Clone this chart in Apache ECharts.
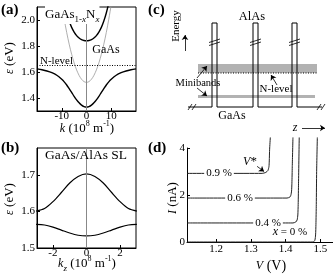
<!DOCTYPE html>
<html>
<head>
<meta charset="utf-8">
<script src="https://cdn.jsdelivr.net/npm/echarts@6/dist/echarts.min.js"></script>
<style>
html, body { margin: 0; padding: 0; background: #fff; }
#chart { width: 333px; height: 279px; }
</style>
</head>
<body>
<div id="chart"></div>
<script>
// (a) GaAs1-xNx band anticrossing
const kA = [-20, -18, -16, -14, -12, -10, -9, -8, -7, -6, -5, -4, -3, -2, -1, 0, 1, 2, 3, 4, 5, 6, 7, 8, 9, 10, 12, 14, 16, 18, 20];
const eLowerA = [1.624, 1.617, 1.608, 1.595, 1.575, 1.544, 1.524, 1.500, 1.472, 1.443, 1.413, 1.386, 1.363, 1.345, 1.334, 1.330, 1.334, 1.345, 1.363, 1.386, 1.413, 1.443, 1.472, 1.500, 1.524, 1.544, 1.575, 1.595, 1.608, 1.617, 1.624];
const kUpperA = [-10, -9, -8, -7, -6, -5, -4, -3, -2, -1, 0, 1, 2, 3, 4, 5, 6, 7, 8, 9, 10];
const eUpperA = [2.225, 2.132, 2.054, 1.992, 1.943, 1.907, 1.880, 1.862, 1.849, 1.842, 1.840, 1.842, 1.849, 1.862, 1.880, 1.907, 1.943, 1.992, 2.054, 2.132, 2.225];
const kGaAs = [-11, -10, -9, -8, -7, -6, -5, -4, -3, -2, -1, 0, 1, 2, 3, 4, 5, 6, 7, 8, 9, 10, 11];
const eGaAs = [2.246, 2.120, 2.006, 1.904, 1.814, 1.736, 1.670, 1.616, 1.574, 1.544, 1.526, 1.520, 1.526, 1.544, 1.574, 1.616, 1.670, 1.736, 1.814, 1.904, 2.006, 2.120, 2.246];
const nLevel = 1.65;
const ticksAx = [-10, 0, 10];
const ticksAy = [1.4, 1.6, 1.8, 2.0];

// (b) GaAs/AlAs superlattice minibands
const kB = [-3, -2.5, -2, -1.5, -1, -0.5, 0, 0.5, 1, 1.5, 2, 2.5, 3];
const eUpperB = [1.601, 1.608, 1.627, 1.652, 1.678, 1.696, 1.703, 1.696, 1.678, 1.652, 1.627, 1.608, 1.601];
const eLowerB = [1.565, 1.563, 1.557, 1.549, 1.541, 1.535, 1.533, 1.535, 1.541, 1.549, 1.557, 1.563, 1.565];
const ticksBx = [-2, 0, 2];
const ticksBy = [1.5, 1.6, 1.7];

// (c) schematic: z along the structure, energy downwards
const profileZ = [23, 47, 47, 52, 52, 88, 88, 93, 93, 127, 127, 132, 132, 157];
const profileE = [107, 107, 23, 23, 107, 107, 23, 23, 107, 107, 23, 23, 107, 107];
const barriers = [[47, 52], [88, 93], [127, 132]];
const upperBand = [[33, 68.5], [152, 68.5]];
const lowerBand = [[33, 96.5], [150, 96.5]];
const nLine = [[33, 73], [152, 73]];

// (d) I-V curves
const v09 = [1.117, 1.332, 1.343, 1.349, 1.352, 1.353, 1.354, 1.356];
const i09 = [2.92, 2.92, 2.96, 3.04, 3.20, 3.45, 3.95, 4.45];
const v06 = [1.117, 1.404, 1.412, 1.415, 1.417, 1.418, 1.419, 1.421];
const i06 = [1.87, 1.87, 1.91, 1.99, 2.17, 2.50, 3.20, 4.45];
const v04 = [1.117, 1.421, 1.429, 1.433, 1.435, 1.436, 1.437, 1.439];
const i04 = [0.81, 0.81, 0.85, 0.94, 1.15, 1.60, 2.50, 4.45];
const v00 = [1.117, 1.479, 1.484, 1.486, 1.487, 1.488, 1.489, 1.491];
const i00 = [0, 0, 0.08, 0.30, 0.75, 1.60, 3.00, 4.45];
const ticksDx = [1.2, 1.3, 1.4, 1.5];
const ticksDy = [0, 2, 4];

const FONT = 'Liberation Serif';
const zip = (xs, ys) => xs.map((x, i) => [x, ys[i]]);

function valAxis(idx, min, max, ticks, digits, margin) {
    return {
        type: 'value', gridIndex: idx, min: min, max: max,
        axisLine: { show: true, onZero: false, lineStyle: { color: '#000', width: 1 } },
        axisTick: { show: true, inside: true, length: 3, customValues: ticks, lineStyle: { color: '#000' } },
        axisLabel: {
            show: true, customValues: ticks, margin: margin, color: '#000',
            fontFamily: FONT, fontSize: 11,
            formatter: v => digits ? Number(v).toFixed(digits) : String(v)
        },
        splitLine: { show: false }
    };
}
function hiddenAxis(idx, min, max, extra) {
    return Object.assign({ type: 'value', gridIndex: idx, min: min, max: max, show: false }, extra || {});
}
function curve(xi, data, color, width, extra) {
    return Object.assign({
        type: 'line', xAxisIndex: xi, yAxisIndex: xi, data: data, showSymbol: false,
        smooth: 0.3, lineStyle: { color: color, width: width }, silent: true
    }, extra || {});
}
function segs(list, color, width, extra) {
    return Object.assign({
        type: 'lines', coordinateSystem: 'cartesian2d', xAxisIndex: 2, yAxisIndex: 2,
        polyline: true, silent: true,
        lineStyle: { color: color, width: width, opacity: 1 },
        data: list.map(c => ({ coords: c }))
    }, extra || {});
}
function txt(x, y, text, size, extra) {
    const style = Object.assign({
        text: text, fontFamily: FONT, fontSize: size, fill: '#000',
        align: 'center', verticalAlign: 'middle'
    }, extra || {});
    return { type: 'text', x: x, y: y, z: 100, style: style };
}
function vtxt(x, y, text, size, extra) {
    return Object.assign(txt(x, y, text, size, extra), { rotation: Math.PI / 2 });
}
const richBase = {
    i: { fontStyle: 'italic', fontFamily: FONT },
    sup: { fontSize: 8, verticalAlign: 'top', fontFamily: FONT },
    sub: { fontSize: 9, verticalAlign: 'bottom', fontFamily: FONT },
    subi: { fontSize: 9, verticalAlign: 'bottom', fontStyle: 'italic', fontFamily: FONT }
};

// break marks on the barriers and at the ends
const breakMarks = [];
barriers.forEach(b => {
    breakMarks.push([[b[0] - 3, 42.5], [b[1] + 3, 39]]);
    breakMarks.push([[b[0] - 3, 45.5], [b[1] + 3, 42]]);
});
breakMarks.push([[23, 110], [27, 104]], [[27, 110], [31, 104]]);
breakMarks.push([[152, 110], [156, 104]], [[156, 110], [160, 104]]);

const arrows = [
    [[32, 78], [42, 66]],
    [[32, 88], [42, 96]],
    [[112, 85], [106, 75]],
    [[137, 128], [160, 128]],
    [[20, 51], [20, 35]]
];

const chart = echarts.init(document.getElementById('chart'));
chart.setOption({
    animation: false,
    backgroundColor: '#fff',
    grid: [
        { left: 37, top: 7, width: 99, height: 104, show: true, borderColor: '#000', borderWidth: 1 },
        { left: 37, top: 148, width: 99, height: 100, show: true, borderColor: '#000', borderWidth: 1 },
        { left: 165, top: 0, width: 168, height: 140 },
        { left: 187, top: 148, width: 146, height: 94 }
    ],
    xAxis: [
        valAxis(0, -20, 20, ticksAx, 0, 0),
        valAxis(1, -2.95, 2.95, ticksBx, 0, 0),
        hiddenAxis(2, 0, 168),
        valAxis(3, 1.1167, 1.536, ticksDx, 1, 2)
    ],
    yAxis: [
        valAxis(0, 1.3, 2.1, ticksAy, 1, 2),
        valAxis(1, 1.5, 1.774, ticksBy, 1, 2),
        hiddenAxis(2, 0, 140, { inverse: true }),
        valAxis(3, 0, 4, ticksDy, 0, 2)
    ],
    series: [
        curve(0, zip(kGaAs, eGaAs), '#999', 0.8),
        curve(0, zip(kA, eLowerA), '#000', 1.4, {
            markLine: {
                silent: true, symbol: 'none', label: { show: false },
                data: [
                    { xAxis: 0, lineStyle: { color: '#888', width: 1, type: 'solid' } },
                    { yAxis: nLevel, lineStyle: { color: '#000', width: 1, type: [1, 1.5] } }
                ]
            }
        }),
        curve(0, zip(kUpperA, eUpperA), '#000', 1.4),
        curve(1, zip(kB, eUpperB), '#000', 1.2, {
            markLine: {
                silent: true, symbol: 'none', label: { show: false },
                data: [{ xAxis: 0, lineStyle: { color: '#888', width: 1, type: 'solid' } }]
            }
        }),
        curve(1, zip(kB, eLowerB), '#000', 1.2),
        segs([upperBand], '#b2b2b2', 9),
        segs([lowerBand], '#b2b2b2', 3),
        segs([nLine], '#000', 1, { lineStyle: { color: '#000', width: 1, type: [1, 1.5], opacity: 1 } }),
        segs([zip(profileZ, profileE)], '#000', 1),
        segs(breakMarks, '#000', 0.8),
        segs(arrows, '#000', 0.8, { polyline: false, symbol: ['none', 'arrow'], symbolSize: 5 }),
        curve(3, zip(v09, i09), '#222', 1, { clip: false, smooth: 0.2 }),
        curve(3, zip(v06, i06), '#222', 1, { clip: false, smooth: 0.2 }),
        curve(3, zip(v04, i04), '#222', 1, { clip: false, smooth: 0.2 }),
        curve(3, zip(v00, i00), '#222', 1, { clip: false, smooth: 0.2 }),
        {
            type: 'lines', coordinateSystem: 'cartesian2d', xAxisIndex: 3, yAxisIndex: 3, silent: true,
            symbol: ['none', 'arrow'], symbolSize: 5,
            lineStyle: { color: '#000', width: 0.8, opacity: 1 },
            data: [{ coords: [[1.318, 3.22], [1.338, 3.0]] }]
        }
    ],
    graphic: [
        txt(1, 10, '(a)', 15, { align: 'left', fontWeight: 'bold' }),
        txt(1, 148, '(b)', 15, { align: 'left', fontWeight: 'bold' }),
        txt(148, 10, '(c)', 15, { align: 'left', fontWeight: 'bold' }),
        txt(148, 148, '(d)', 15, { align: 'left', fontWeight: 'bold' }),

        txt(45, 15, 'GaAs{sub|1-}{subi|x}N{subi|x}', 13, { align: 'left', rich: richBase, lineHeight: 18, backgroundColor: '#fff' }),
        txt(106, 50, 'GaAs', 12),
        txt(40, 61, 'N-level', 11, { align: 'left' }),
        vtxt(10, 58, '{i|ε} (eV)', 13, { rich: richBase }),
        txt(87, 129, '{i|k} (10{sup|8} m{sup|-1})', 13, { rich: richBase, lineHeight: 19 }),

        txt(86, 155, 'GaAs/AlAs SL', 13.5),
        vtxt(10, 199, '{i|ε} (eV)', 13, { rich: richBase }),
        txt(87, 264, '{i|k}{subi|z} (10{sup|8} m{sup|-1})', 13, { rich: richBase, lineHeight: 19 }),

        txt(252, 17, 'AlAs', 12.5),
        vtxt(176, 26, 'Energy', 11),
        txt(198, 83, 'Minibands', 10.5),
        txt(276, 89, 'N-level', 11),
        txt(232, 116, 'GaAs', 12),
        txt(295, 128, 'z', 12, { fontStyle: 'italic' }),

        txt(219, 173, '0.9 %', 11, { backgroundColor: '#fff', padding: [0, 2] }),
        txt(240, 198, '0.6 %', 11, { backgroundColor: '#fff', padding: [0, 2] }),
        txt(268, 223, '0.4 %', 11, { backgroundColor: '#fff', padding: [0, 2] }),
        txt(290, 232, '{i|x} = 0 %', 11, { rich: richBase }),
        txt(250, 162, '{i|V}*', 13, { rich: richBase }),
        vtxt(173, 198, '{i|I} (nA)', 13, { rich: richBase }),
        txt(271, 266, '{i|V} (V)', 14, { rich: richBase })
    ]
});
</script>
</body>
</html>
